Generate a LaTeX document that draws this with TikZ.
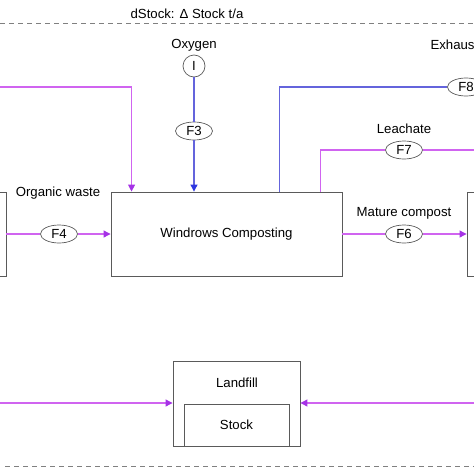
\documentclass[tikz,border=0pt]{standalone}
\usepackage{fontspec}
\setmainfont{Liberation Sans}
\usetikzlibrary{arrows.meta,shapes.geometric,positioning}

\definecolor{flowpink}{RGB}{208,100,240}
\definecolor{tippink}{RGB}{165,50,230}
\definecolor{flowblue}{RGB}{100,100,220}
\definecolor{tipblue}{RGB}{45,55,225}
\definecolor{boxgray}{RGB}{90,90,90}

\tikzset{
  process/.style={draw=boxgray, line width=0.9pt, minimum height=84pt, inner sep=0pt},
  flowtag/.style={ellipse, draw=boxgray, line width=0.7pt, fill=white, minimum width=37pt, minimum height=18pt, inner sep=0pt},
  pinkline/.style={draw=flowpink, line width=1.1pt},
  pinkarrow/.style={pinkline, -{Triangle[length=7pt,width=7pt,color=tippink]}},
  blueline/.style={draw=flowblue, line width=1.1pt},
  bluearrow/.style={blueline, -{Triangle[length=7pt,width=7pt,color=tipblue]}},
  border/.style={draw=gray, line width=0.8pt, dash pattern=on 5pt off 4pt}
}

\begin{document}
\begin{tikzpicture}[x=1pt, y=-1pt, font=\fontsize{13.2}{15}\selectfont]

  \useasboundingbox (0,0) rectangle (474,474);
  \clip (0,0) rectangle (474,474);

  % System boundary
  \draw[border] (0,23) -- (474,23);
  \draw[border] (5,466) -- (474,466);
  \node (dstock) at (187,14) {dStock: Δ Stock t/a};

  % Processes
  \node[process, minimum width=100pt] (source) at (-44,234) {};
  \node[process, minimum width=231pt] (compost) at (226.5,234) {Windrows Composting};
  \node[process, minimum width=100pt] (market) at (517,234) {};
  \node[process, minimum width=127pt, minimum height=85pt] (landfill) at (236.5,403.5) {};
  \node (landfilltxt) at (237,383) {Landfill};
  \node[process, minimum width=105pt, minimum height=42pt] (stock) at (236.5,425) {Stock};

  % Import
  \node (oxygentxt) at (194,45) {Oxygen};
  \node[circle, draw=boxgray, line width=0.7pt, minimum size=22pt, inner sep=0pt] (oxygen) at (194,66) {I};

  % Flows
  \node[flowtag] (F3) at (194,131) {F3};
  \node[flowtag] (F4) at (59,234) {F4};
  \node[flowtag] (F6) at (404,234) {F6};
  \node[flowtag] (F7) at (404,150) {F7};
  \node[flowtag] (F8) at (466,87) {F8};

  % Flow labels
  \node (organictxt) at (58,193) {Organic waste};
  \node (maturetxt) at (404,213) {Mature compost};
  \node (leachatetxt) at (404,129) {Leachate};
  \node[anchor=west] (exhausttxt) at (427,45) {Exhaust};

  % Loose ends
  \coordinate (in2) at (-5,87);
  \coordinate (out7) at (480,150);
  \coordinate (in9) at (-5,403);
  \coordinate (in10) at (480,403);

  % Pink flows
  \draw[pinkarrow] (in2) -| ([xshift=21pt]compost.north west);
  \draw[pinkline] (source) -- (F4);
  \draw[pinkarrow] (F4) -- (compost);
  \draw[pinkline] (compost) -- (F6);
  \draw[pinkarrow] (F6) -- (market);
  \draw[pinkline] ([xshift=-22pt]compost.north east) |- (F7);
  \draw[pinkline] (F7) -- (out7);
  \draw[pinkarrow] (in9) -- (landfill.west |- in9);
  \draw[pinkarrow] (in10) -- (landfill.east |- in10);

  % Blue flows
  \draw[blueline] (oxygen) -- (F3);
  \draw[bluearrow] (F3) -- (compost.north -| F3);
  \draw[blueline] (F8) -| ([xshift=-63pt]compost.north east);

\end{tikzpicture}
\end{document}
